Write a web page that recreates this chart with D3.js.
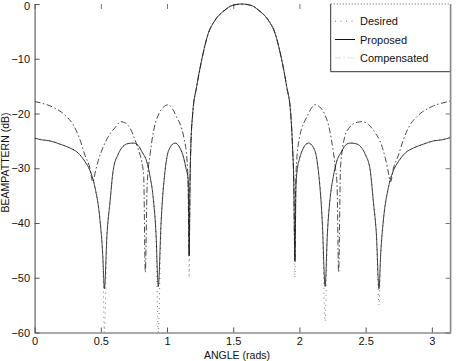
<!DOCTYPE html>
<html><head><meta charset="utf-8">
<script src="https://cdn.jsdelivr.net/npm/d3@7"></script>
<style>
html,body{margin:0;padding:0;background:#fff;}
svg{display:block;font-family:"Liberation Sans",Arial,Helvetica,sans-serif;}
</style></head><body>
<svg id="chart" width="474" height="361"></svg>
<script>
const xTicks = [0, 0.5, 1, 1.5, 2, 2.5, 3];
const yTicks = [0, -10, -20, -30, -40, -50, -60];
const seriesNames = ["Desired", "Proposed", "Compensated"];

const propAngle = [0, 0.05, 0.116, 0.192, 0.267, 0.328, 0.381, 0.418, 0.456, 0.494, 0.515, 0.527, 0.547, 0.569, 0.594, 0.63, 0.668, 0.705, 0.745, 0.781, 0.811, 0.847, 0.872, 0.894, 0.917, 0.934, 0.955, 0.985, 1.0, 1.023, 1.06, 1.098, 1.128, 1.143, 1.16, 1.167, 1.174, 1.179, 1.194, 1.224, 1.262, 1.312, 1.362, 1.438, 1.489, 1.564, 1.64, 1.69, 1.766, 1.816, 1.866, 1.904, 1.934, 1.949, 1.957, 1.966, 1.974, 1.985, 2.0, 2.03, 2.068, 2.105, 2.128, 2.143, 2.173, 2.194, 2.211, 2.234, 2.256, 2.281, 2.317, 2.347, 2.383, 2.423, 2.46, 2.498, 2.534, 2.559, 2.581, 2.601, 2.613, 2.634, 2.672, 2.71, 2.747, 2.8, 2.861, 2.936, 3.012, 3.078, 3.1416];
const propDb = [-24.5, -24.8, -25.0, -25.6, -26.3, -27.2, -28.8, -30.4, -33.5, -39.5, -46, -52, -42, -36.3, -30.3, -27.5, -26.0, -25.5, -25.4, -25.8, -27, -28.8, -31.5, -35, -42, -51.6, -40, -30.5, -27.9, -26.2, -25.4, -26.3, -28.3, -30, -32.1, -46, -32.1, -26.7, -20, -15.1, -10.2, -5.35, -3, -1.1, -0.3, 0, -0.3, -1.1, -3, -5.35, -10.2, -15.1, -20, -26.7, -32.1, -47, -33, -30, -28.3, -26.3, -25.4, -26.2, -27.9, -30.5, -40, -51.6, -42, -35, -31.5, -28.8, -27, -25.8, -25.4, -25.5, -26.0, -27.5, -30.3, -36.3, -42, -52, -46, -39.5, -33.5, -30.4, -28.8, -27.2, -26.3, -25.6, -25.0, -24.8, -24.4];

const desAngle = [0, 0.05, 0.116, 0.192, 0.267, 0.328, 0.381, 0.418, 0.456, 0.494, 0.515, 0.527, 0.547, 0.569, 0.594, 0.63, 0.668, 0.705, 0.745, 0.781, 0.811, 0.847, 0.872, 0.894, 0.917, 0.934, 0.955, 0.985, 1.0, 1.023, 1.06, 1.098, 1.128, 1.143, 1.16, 1.167, 1.174, 1.179, 1.194, 1.224, 1.262, 1.312, 1.362, 1.438, 1.489, 1.564, 1.64, 1.69, 1.766, 1.816, 1.866, 1.904, 1.934, 1.949, 1.957, 1.966, 1.974, 1.985, 2.0, 2.03, 2.068, 2.105, 2.128, 2.143, 2.173, 2.194, 2.211, 2.234, 2.256, 2.281, 2.317, 2.347, 2.383, 2.423, 2.46, 2.498, 2.534, 2.559, 2.581, 2.601, 2.613, 2.634, 2.672, 2.71, 2.747, 2.8, 2.861, 2.936, 3.012, 3.078, 3.1416];
const desDb = [-24.5, -24.8, -25.0, -25.6, -26.3, -27.2, -28.8, -30.4, -33.5, -39.5, -46, -60, -42, -36.3, -30.3, -27.5, -26.0, -25.5, -25.4, -25.8, -27, -28.8, -31.5, -35, -42, -60, -40, -30.5, -27.9, -26.2, -25.4, -26.3, -28.3, -30, -32.1, -50, -32.1, -26.7, -20, -15.1, -10.2, -5.35, -3, -1.1, -0.3, 0, -0.3, -1.1, -3, -5.35, -10.2, -15.1, -20, -26.7, -32.1, -50, -33, -30, -28.3, -26.3, -25.4, -26.2, -27.9, -30.5, -40, -58, -42, -35, -31.5, -28.8, -27, -25.8, -25.4, -25.5, -26.0, -27.5, -30.3, -36.3, -42, -55, -46, -39.5, -33.5, -30.4, -28.8, -27.2, -26.3, -25.6, -25.0, -24.8, -24.4];

const compAngle = [0, 0.05, 0.116, 0.154, 0.2, 0.242, 0.293, 0.343, 0.38, 0.418, 0.44, 0.46, 0.481, 0.52, 0.557, 0.607, 0.65, 0.69, 0.728, 0.758, 0.789, 0.809, 0.824, 0.836, 0.85, 0.872, 0.9, 0.94, 0.975, 1.01, 1.045, 1.075, 1.1, 1.128, 1.151, 1.159, 1.167, 1.174, 1.179, 1.194, 1.224, 1.262, 1.312, 1.362, 1.438, 1.489, 1.564, 1.64, 1.69, 1.766, 1.816, 1.866, 1.904, 1.934, 1.949, 1.957, 1.966, 1.972, 1.98, 2.0, 2.028, 2.053, 2.083, 2.118, 2.153, 2.188, 2.228, 2.256, 2.272, 2.284, 2.296, 2.31, 2.325, 2.345, 2.37, 2.4, 2.438, 2.478, 2.521, 2.571, 2.608, 2.647, 2.668, 2.688, 2.71, 2.748, 2.785, 2.835, 2.886, 2.928, 2.974, 3.012, 3.078, 3.1416];
const compDb = [-17.8, -18.1, -18.6, -19.05, -19.7, -20.6, -22.1, -24.8, -27.6, -30.0, -32.5, -30.5, -28.6, -26.0, -24.2, -22.6, -21.5, -21.8, -23.0, -24.8, -27, -28.8, -31.5, -49, -33, -27.5, -23, -20, -18.8, -18.4, -19.3, -20.8, -22, -24.5, -28.5, -33, -46, -32.1, -26.7, -20, -15.1, -10.2, -5.35, -3, -1.1, -0.3, 0, -0.3, -1.1, -3, -5.35, -10.2, -15.1, -20, -26.7, -32.1, -47, -33, -28.5, -24.5, -22, -20.8, -19.3, -18.4, -18.8, -20, -23, -27, -30, -33, -49, -30, -26.5, -24, -22.8, -22, -21.6, -21.5, -22.0, -23.5, -25.0, -28, -30.3, -32.5, -30.0, -27.6, -24.8, -22.1, -20.6, -19.7, -19.05, -18.6, -18.1, -17.7];

const svg = d3.select("#chart");
const x = d3.scaleLinear().domain([0, Math.PI]).range([34.6, 450.6]);
const y = d3.scaleLinear().domain([-60, 0]).range([332.5, 4]);

svg.append("defs").append("clipPath").attr("id", "clip")
  .append("rect").attr("x", x(0)).attr("y", y(0) - 1).attr("width", x(Math.PI) - x(0)).attr("height", y(-60) - y(0) + 1);

function styleAxis(g, col) {
  g.attr("font-family", null).attr("font-size", null);
  g.selectAll(".tick line").attr("stroke", col).attr("stroke-width", 1);
  g.selectAll(".tick text").attr("fill", "#111").style("font-size", "11px");
}

// top and right ticks (drawn first, legend covers part)
const gTop = svg.append("g").attr("transform", `translate(0,${y(0)})`)
  .call(d3.axisTop(x).tickValues(xTicks).tickSizeInner(-5).tickSizeOuter(0).tickFormat(() => ""));
gTop.select(".domain").attr("stroke", "none");
styleAxis(gTop, "#777");
const gRight = svg.append("g").attr("transform", `translate(${x(Math.PI)},0)`)
  .call(d3.axisRight(y).tickValues(yTicks).tickSizeInner(-5).tickSizeOuter(0).tickFormat(() => ""));
gRight.select(".domain").attr("stroke", "none");
styleAxis(gRight, "#777");

const gLeft = svg.append("g").attr("transform", `translate(${x(0)},0)`)
  .call(d3.axisLeft(y).tickValues(yTicks).tickSizeInner(-5).tickSizeOuter(0).tickPadding(4.5).tickFormat(d3.format("d")));
gLeft.select(".domain").attr("stroke", "#555").attr("stroke-width", 1.1);
styleAxis(gLeft, "#555");
gLeft.selectAll(".tick text").filter(d => d === 0).attr("y", 1.6);

const gBottom = svg.append("g").attr("transform", `translate(0,${y(-60)})`)
  .call(d3.axisBottom(x).tickValues(xTicks).tickSizeInner(-5).tickSizeOuter(0).tickPadding(5).tickFormat(d3.format("~g")));
gBottom.select(".domain").attr("stroke", "#555").attr("stroke-width", 1.1);
styleAxis(gBottom, "#555");

// curves
const plot = svg.append("g").attr("clip-path", "url(#clip)");
function mkLine(ang, db) {
  return d3.line().x((d, i) => x(ang[i])).y((d, i) => y(db[i])).curve(d3.curveMonotoneX)(db);
}
plot.append("path").attr("d", mkLine(compAngle, compDb))
  .attr("fill", "none").attr("stroke", "#333").attr("stroke-width", 0.9)
  .attr("stroke-dasharray", "6,2.5,1.5,2.5");
plot.append("path").attr("d", mkLine(desAngle, desDb))
  .attr("fill", "none").attr("stroke", "#777").attr("stroke-width", 1)
  .attr("stroke-dasharray", "1,4");
plot.append("path").attr("d", mkLine(propAngle, propDb))
  .attr("fill", "none").attr("stroke", "#111").attr("stroke-width", 0.8);

// legend
const lx0 = 330.7, lx1 = x(Math.PI), ly0 = y(0), ly1 = 71.7;
const leg = svg.append("g");
leg.append("rect").attr("x", lx0).attr("y", ly0).attr("width", lx1 - lx0).attr("height", ly1 - ly0).attr("fill", "#fff");
leg.append("line").attr("x1", lx0).attr("x2", lx0).attr("y1", ly0).attr("y2", ly1).attr("stroke", "#333").attr("stroke-width", 1);
leg.append("line").attr("x1", lx0).attr("x2", lx1).attr("y1", ly1).attr("y2", ly1).attr("stroke", "#333").attr("stroke-width", 1);
leg.append("line").attr("x1", lx0).attr("x2", lx1).attr("y1", ly0).attr("y2", ly0).attr("stroke", "#555").attr("stroke-width", 1).attr("stroke-dasharray", "1,2");
const legStyles = [
  {stroke: "#777", dash: "1,4.5", op: 1},
  {stroke: "#111", dash: null, op: 1},
  {stroke: "#333", dash: "6,2.5,1.5,2.5", op: 0.15}
];
seriesNames.forEach((name, i) => {
  const base = 25.2 + i * 18.3;
  const s = legStyles[i];
  leg.append("line").attr("x1", 335).attr("x2", 355).attr("y1", base - 4).attr("y2", base - 4)
    .attr("stroke", s.stroke).attr("stroke-width", 1).attr("stroke-dasharray", s.dash).attr("opacity", s.op);
  leg.append("text").attr("x", 360).attr("y", base).attr("font-size", "11px").attr("fill", "#111").text(name);
});

// right frame line
svg.append("line").attr("x1", x(Math.PI)).attr("x2", x(Math.PI)).attr("y1", y(0)).attr("y2", y(-60))
  .attr("stroke", "#888").attr("stroke-width", 1.6);

// axis labels
svg.append("text").attr("x", 237).attr("y", 358.5).attr("text-anchor", "middle")
  .attr("font-size", "10.5px").attr("fill", "#111").text("ANGLE (rads)");
svg.append("text").attr("transform", "translate(9,162.5) rotate(-90)").attr("text-anchor", "middle")
  .attr("font-size", "10.5px").attr("fill", "#111").text("BEAMPATTERN (dB)");
</script>
</body></html>
